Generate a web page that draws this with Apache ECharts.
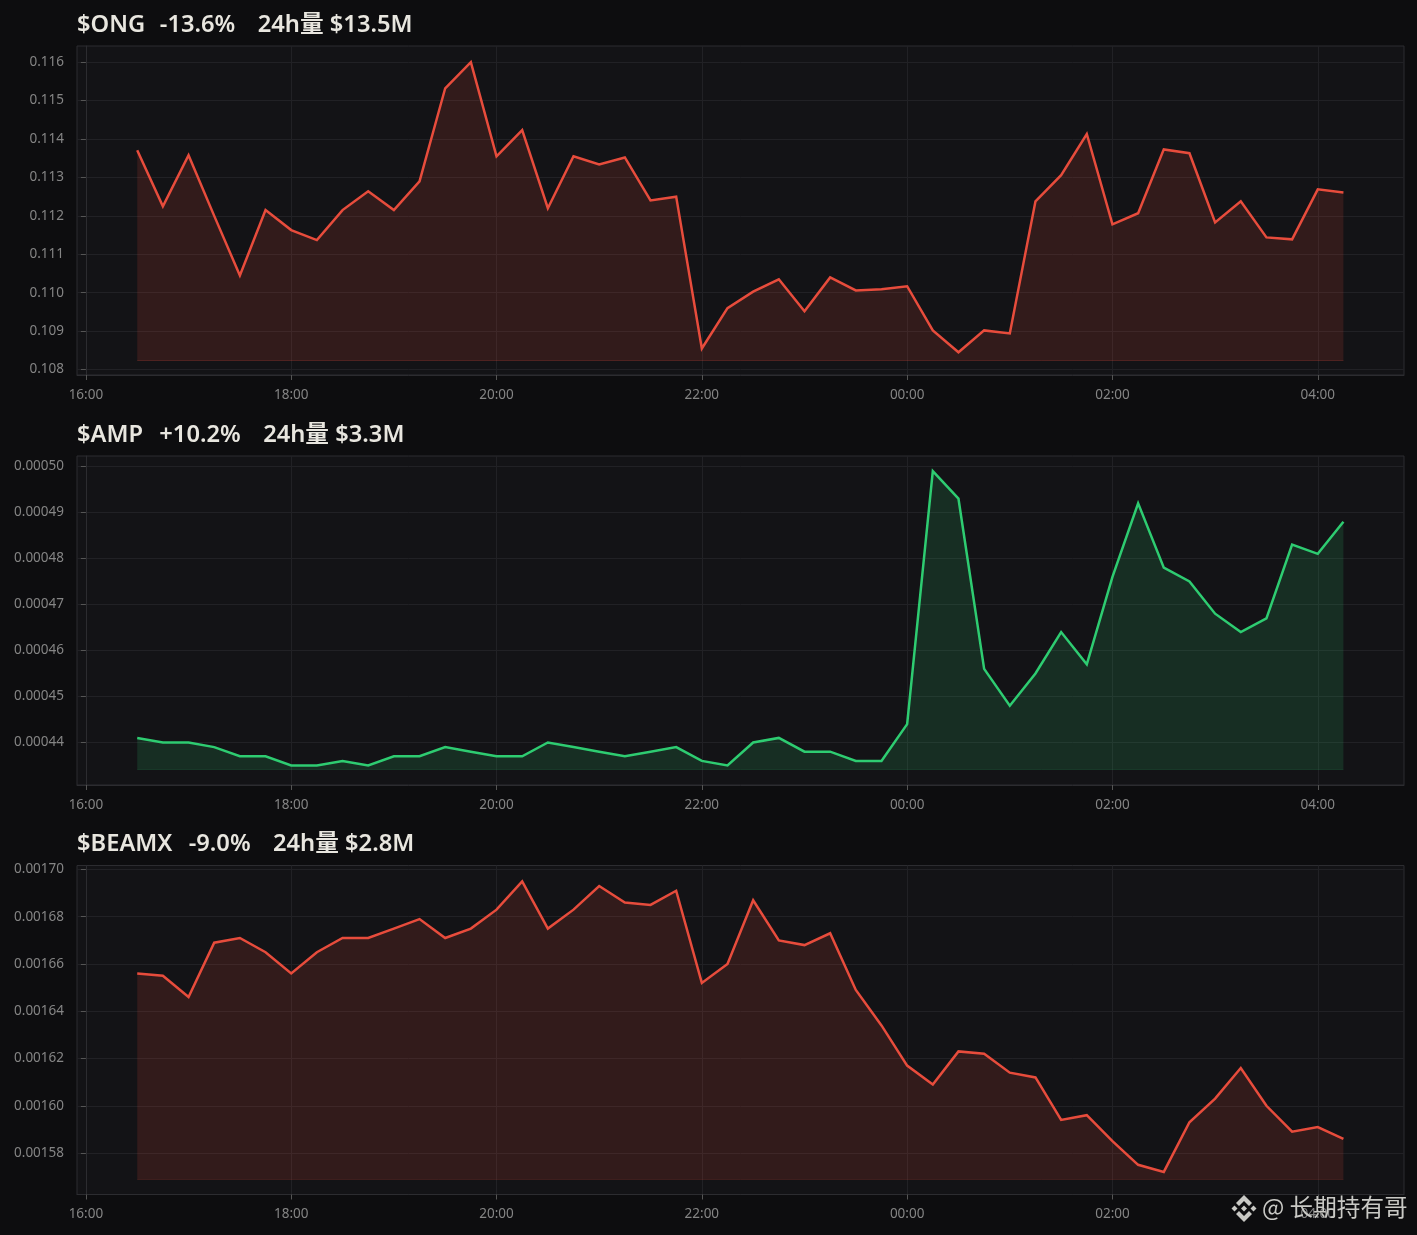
<!DOCTYPE html>
<html><head><meta charset="utf-8">
<style>html,body{margin:0;padding:0;background:#0d0d0f}#c{width:1417px;height:1235px}</style>
<script src="https://cdn.jsdelivr.net/npm/echarts@6/dist/echarts.min.js"></script>
</head><body><div id="c"></div>
<script>
const times = ["16:30","16:45","17:00","17:15","17:30","17:45","18:00","18:15","18:30","18:45","19:00","19:15","19:30","19:45","20:00","20:15","20:30","20:45","21:00","21:15","21:30","21:45","22:00","22:15","22:30","22:45","23:00","23:15","23:30","23:45","00:00","00:15","00:30","00:45","01:00","01:15","01:30","01:45","02:00","02:15","02:30","02:45","03:00","03:15","03:30","03:45","04:00","04:15"];
const ongValues = [0.11371,0.11225,0.11358,0.1120,0.11045,0.11215,0.11163,0.11137,0.11215,0.11264,0.11215,0.1129,0.11532,0.116,0.11355,0.11423,0.1122,0.11355,0.11334,0.11352,0.1124,0.1125,0.10855,0.1096,0.11003,0.11035,0.10952,0.1104,0.11006,0.11009,0.11017,0.10902,0.10845,0.10902,0.10894,0.11238,0.11306,0.11413,0.11178,0.11207,0.11373,0.11363,0.11183,0.11238,0.11144,0.11139,0.11269,0.11261];
const ampValues = [0.000441,0.00044,0.00044,0.000439,0.000437,0.000437,0.000435,0.000435,0.000436,0.000435,0.000437,0.000437,0.000439,0.000438,0.000437,0.000437,0.00044,0.000439,0.000438,0.000437,0.000438,0.000439,0.000436,0.000435,0.00044,0.000441,0.000438,0.000438,0.000436,0.000436,0.000444,0.000499,0.000493,0.000456,0.000448,0.000455,0.000464,0.000457,0.000476,0.000492,0.000478,0.000475,0.000468,0.000464,0.000467,0.000483,0.000481,0.000488];
const beamxValues = [0.001656,0.001655,0.001646,0.001669,0.001671,0.001665,0.001656,0.001665,0.001671,0.001671,0.001675,0.001679,0.001671,0.001675,0.001683,0.001695,0.001675,0.001683,0.001693,0.001686,0.001685,0.001691,0.001652,0.00166,0.001687,0.00167,0.001668,0.001673,0.001649,0.001634,0.001617,0.001609,0.001623,0.001622,0.001614,0.001612,0.001594,0.001596,0.001585,0.001575,0.001572,0.001593,0.001603,0.001616,0.0016,0.001589,0.001591,0.001586];
const xTickLabels = ["16:00","18:00","20:00","22:00","00:00","02:00","04:00"];
const ongTicks = [0.108,0.109,0.110,0.111,0.112,0.113,0.114,0.115,0.116];
const ampTicks = [0.00044,0.00045,0.00046,0.00047,0.00048,0.00049,0.00050];
const beamxTicks = [0.00158,0.00160,0.00162,0.00164,0.00166,0.00168,0.00170];
const titles = ["$ONG  \u200A-13.6%   \u200924h量 $13.5M","$AMP  \u2009+10.2%   \u200924h量 $3.3M","$BEAMX  \u2009-9.0%   \u200924h量 $2.8M"];

const FONT = '"Noto Sans","Noto Sans CJK SC",sans-serif';
function toMinutes(t){ const [h,m]=t.split(':').map(Number); return (h<12?h+24:h)*60+m-960; }
const xTickValues = xTickLabels.map(toMinutes);
const panels = [
  {top:46, values:ongValues, ticks:ongTicks, digits:3, min:0.10786, max:0.11642, base:0.108234, color:'#e74c3c', fill:'rgba(231,76,60,0.15)'},
  {top:456, values:ampValues, ticks:ampTicks, digits:5, min:0.00043076, max:0.00050228, base:0.00043424, color:'#2ecc71', fill:'rgba(46,204,113,0.15)'},
  {top:865.5, values:beamxValues, ticks:beamxTicks, digits:5, min:0.00156244, max:0.00170169, base:0.00156898, color:'#e74c3c', fill:'rgba(231,76,60,0.15)'}
];
const axisLine = {show:true, lineStyle:{color:'#2c2c30',width:1}};
const grids=[],xAxes=[],yAxes=[],series=[],titleOpts=[];
panels.forEach((p,i)=>{
  grids.push({left:77,width:1327,top:p.top,height:329,show:true,backgroundColor:'#131316',borderColor:'#2c2c30',borderWidth:1,containLabel:false});
  xAxes.push({type:'value',gridIndex:i,min:-5.2,max:770.4,position:'bottom',
    axisLine:axisLine,
    axisTick:{show:true,length:5,lineStyle:{color:'#555'},customValues:xTickValues},
    axisLabel:{color:'#858585',fontSize:13.5,fontFamily:FONT,margin:13,customValues:xTickValues,
      formatter:v=>xTickLabels[xTickValues.indexOf(v)]||'',showMinLabel:true,showMaxLabel:true},
    splitLine:{show:true,lineStyle:{color:'#212125',width:1}}});
  yAxes.push({type:'value',gridIndex:i,min:p.min,max:p.max,scale:true,
    axisLine:axisLine,
    axisTick:{show:true,length:5,lineStyle:{color:'#555'},customValues:p.ticks},
    axisLabel:{color:'#858585',fontSize:13.5,fontFamily:FONT,margin:13,customValues:p.ticks,
      formatter:v=>v.toFixed(p.digits)},
    splitLine:{show:true,lineStyle:{color:'#212125',width:1}}});
  const xs=times.map(toMinutes);
  series.push({type:'line',xAxisIndex:i,yAxisIndex:i,showSymbol:false,symbol:'none',smooth:false,silent:true,animation:false,
    data:p.values.map((v,k)=>[xs[k],v]),
    lineStyle:{color:p.color,width:2.5,join:'miter'},
    itemStyle:{color:p.color},
    areaStyle:{color:p.fill,origin:p.base,opacity:1},
    markLine:{silent:true,symbol:'none',animation:false,label:{show:false},
      lineStyle:{color:p.color,opacity:0.2,width:1,type:'solid'},
      data:[[{coord:[xs[0],p.base]},{coord:[xs[xs.length-1],p.base]}]]}});
  titleOpts.push({text:titles[i],left:77,top:p.top-33,padding:0,
    textStyle:{color:'#e8e6df',fontSize:23.7,fontWeight:600,fontFamily:FONT}});
});
const wm='#c9c9c5';
const chart=echarts.init(document.getElementById('c'),null,{renderer:'canvas'});
chart.setOption({
  animation:false,
  backgroundColor:'#0d0d0f',
  title:titleOpts,grid:grids,xAxis:xAxes,yAxis:yAxes,series:series,
  graphic:[
    {type:'polygon',z:100,shape:{points:[[1244,1195],[1252,1203],[1249,1206],[1244,1201],[1239,1206],[1236,1203]]},style:{fill:wm}},
    {type:'polygon',z:100,shape:{points:[[1244,1222],[1252,1214],[1249,1211],[1244,1216],[1239,1211],[1236,1214]]},style:{fill:wm}},
    {type:'polygon',z:100,shape:{points:[[1244,1205.5],[1247,1208.5],[1244,1211.5],[1241,1208.5]]},style:{fill:wm}},
    {type:'polygon',z:100,shape:{points:[[1234.5,1205.5],[1237.5,1208.5],[1234.5,1211.5],[1231.5,1208.5]]},style:{fill:wm}},
    {type:'polygon',z:100,shape:{points:[[1253.5,1205.5],[1256.5,1208.5],[1253.5,1211.5],[1250.5,1208.5]]},style:{fill:wm}},
    {type:'text',z:100,left:1262,top:1195,style:{text:'@ 长期持有哥',fill:wm,fontSize:23.6,fontFamily:'"Noto Sans CJK SC","Noto Sans",sans-serif'}}
  ]
});
</script></body></html>
